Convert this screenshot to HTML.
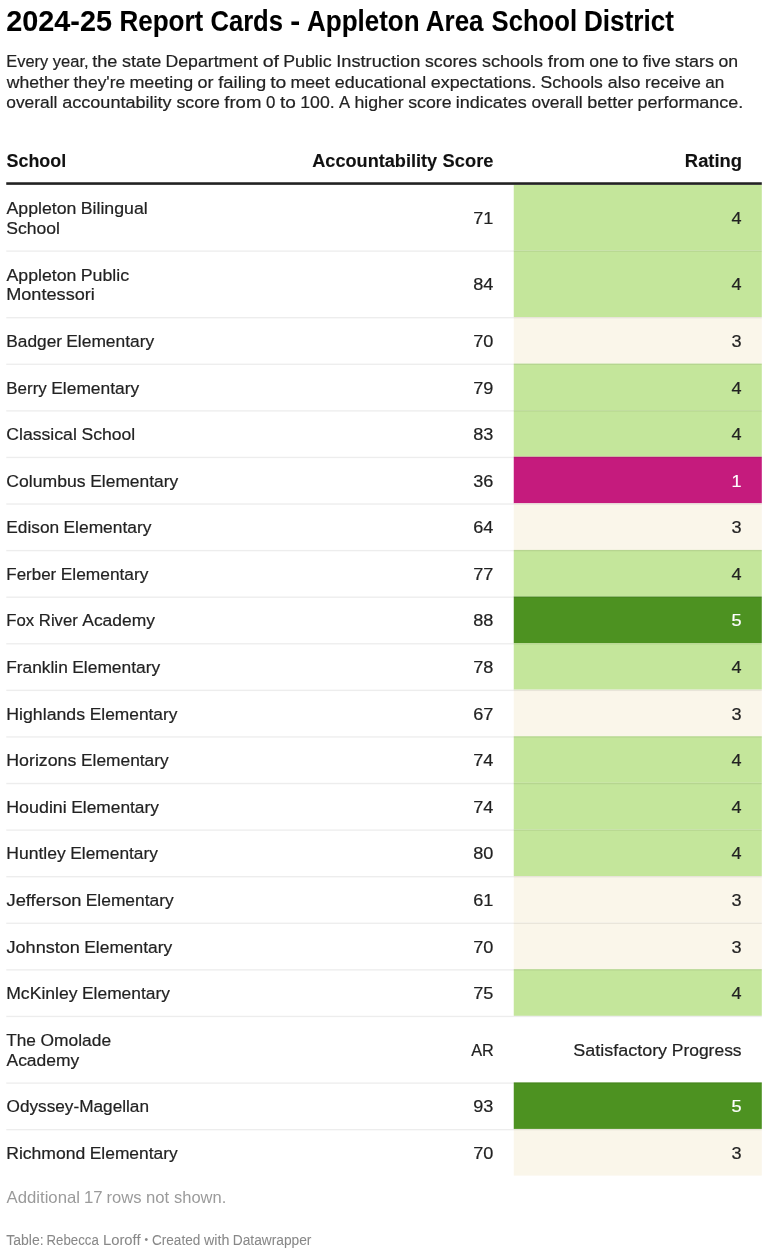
<!DOCTYPE html>
<html lang="en"><head><meta charset="utf-8"><title>2024-25 Report Cards - Appleton Area School District</title>
<style>
html,body{margin:0;padding:0;background:#fff;}
body{width:768px;height:1255px;overflow:hidden;position:relative;font-family:"Liberation Sans",sans-serif;color:#222;}
.t{position:absolute;white-space:nowrap;display:block;margin:0;padding:0;}
h1,p{margin:0;padding:0;font-size:inherit;font-weight:inherit;}
.bgs{position:absolute;left:0;top:0;}
.t{transform-origin:0 0;}
.ttl .t{font-size:28.8px;line-height:33.1px;color:#000;font-weight:700;-webkit-text-stroke:0.08px currentColor;}
.dsc .t{font-size:17.4px;line-height:20.0px;color:#222;-webkit-text-stroke:0.2px currentColor;}
.hd .t{font-size:18.7px;line-height:21.5px;color:#111;font-weight:700;-webkit-text-stroke:0.12px currentColor;}
.row .t{font-size:17.4px;line-height:20.0px;color:#222;-webkit-text-stroke:0.2px currentColor;}
.row .wh .t{color:#fff;}
.more .t{font-size:16.5px;line-height:19.0px;color:#9b9b9b;}
.foot .t{font-size:14.0px;line-height:16.1px;color:#888;-webkit-text-stroke:0.05px currentColor;}
</style></head><body>
<svg class="bgs" width="768" height="1255" viewBox="0 0 768 1255" aria-hidden="true">
<rect x="513.75" y="184.90" width="248.05" height="65.50" fill="#c4e69b"/>
<rect x="513.75" y="250.40" width="248.05" height="66.60" fill="#c4e69b"/>
<rect x="513.75" y="317.00" width="248.05" height="46.58" fill="#faf6ea"/>
<rect x="513.75" y="363.58" width="248.05" height="46.58" fill="#c4e69b"/>
<rect x="513.75" y="410.17" width="248.05" height="46.58" fill="#c4e69b"/>
<rect x="513.75" y="456.75" width="248.05" height="46.58" fill="#c51b7d"/>
<rect x="513.75" y="503.33" width="248.05" height="46.58" fill="#faf6ea"/>
<rect x="513.75" y="549.91" width="248.05" height="46.58" fill="#c4e69b"/>
<rect x="513.75" y="596.50" width="248.05" height="46.58" fill="#4d9221"/>
<rect x="513.75" y="643.08" width="248.05" height="46.58" fill="#c4e69b"/>
<rect x="513.75" y="689.66" width="248.05" height="46.58" fill="#faf6ea"/>
<rect x="513.75" y="736.25" width="248.05" height="46.58" fill="#c4e69b"/>
<rect x="513.75" y="782.83" width="248.05" height="46.58" fill="#c4e69b"/>
<rect x="513.75" y="829.41" width="248.05" height="46.58" fill="#c4e69b"/>
<rect x="513.75" y="876.00" width="248.05" height="46.58" fill="#faf6ea"/>
<rect x="513.75" y="922.58" width="248.05" height="46.58" fill="#faf6ea"/>
<rect x="513.75" y="969.16" width="248.05" height="46.58" fill="#c4e69b"/>
<rect x="513.75" y="1082.40" width="248.05" height="46.55" fill="#4d9221"/>
<rect x="513.75" y="1128.95" width="248.05" height="46.65" fill="#faf6ea"/>
<rect x="6.25" y="250.40" width="755.55" height="1.4" fill="#000" fill-opacity="0.07"/>
<rect x="6.25" y="317.00" width="755.55" height="1.4" fill="#000" fill-opacity="0.07"/>
<rect x="6.25" y="363.58" width="755.55" height="1.4" fill="#000" fill-opacity="0.07"/>
<rect x="6.25" y="410.17" width="755.55" height="1.4" fill="#000" fill-opacity="0.07"/>
<rect x="6.25" y="456.75" width="755.55" height="1.4" fill="#000" fill-opacity="0.07"/>
<rect x="6.25" y="503.33" width="755.55" height="1.4" fill="#000" fill-opacity="0.07"/>
<rect x="6.25" y="549.91" width="755.55" height="1.4" fill="#000" fill-opacity="0.07"/>
<rect x="6.25" y="596.50" width="755.55" height="1.4" fill="#000" fill-opacity="0.07"/>
<rect x="6.25" y="643.08" width="755.55" height="1.4" fill="#000" fill-opacity="0.07"/>
<rect x="6.25" y="689.66" width="755.55" height="1.4" fill="#000" fill-opacity="0.07"/>
<rect x="6.25" y="736.25" width="755.55" height="1.4" fill="#000" fill-opacity="0.07"/>
<rect x="6.25" y="782.83" width="755.55" height="1.4" fill="#000" fill-opacity="0.07"/>
<rect x="6.25" y="829.41" width="755.55" height="1.4" fill="#000" fill-opacity="0.07"/>
<rect x="6.25" y="876.00" width="755.55" height="1.4" fill="#000" fill-opacity="0.07"/>
<rect x="6.25" y="922.58" width="755.55" height="1.4" fill="#000" fill-opacity="0.07"/>
<rect x="6.25" y="969.16" width="755.55" height="1.4" fill="#000" fill-opacity="0.07"/>
<rect x="6.25" y="1015.75" width="755.55" height="1.4" fill="#000" fill-opacity="0.07"/>
<rect x="6.25" y="1082.40" width="755.55" height="1.4" fill="#000" fill-opacity="0.07"/>
<rect x="6.25" y="1128.95" width="755.55" height="1.4" fill="#000" fill-opacity="0.07"/>
<rect x="6.25" y="182.25" width="755.55" height="2.6" fill="#222"/>
</svg>
<h1 class="ttl"><span class="t" id="title_w0" style="left:6px;top:5px;transform:translateX(0.25px) scaleX(1.0000)">2024-25</span> <span class="t" id="title_w1" style="left:119px;top:5px;transform:translateX(0.44px) scaleX(0.9033)">Report</span> <span class="t" id="title_w2" style="left:210px;top:5px;transform:translateX(0.39px) scaleX(0.8896)">Cards</span> <span class="t" id="title_w3" style="left:290px;top:5px;transform:translateX(0.21px) scaleX(1.0345)">-</span> <span class="t" id="title_w4" style="left:307px;top:5px;transform:translateX(0.07px) scaleX(0.9018)">Appleton</span> <span class="t" id="title_w5" style="left:425px;top:5px;transform:translateX(0.82px) scaleX(0.9016)">Area</span> <span class="t" id="title_w6" style="left:491px;top:5px;transform:translateX(0.61px) scaleX(0.8898)">School</span> <span class="t" id="title_w7" style="left:583px;top:5px;transform:translateX(0.94px) scaleX(0.9070)">District</span></h1>
<p class="dsc"><span class="t" id="d0_w0" style="left:6px;top:51px;transform:translateX(0.34px) scaleX(0.9415)">Every</span> <span class="t" id="d0_w1" style="left:52px;top:51px;transform:translateX(0.76px) scaleX(0.9514)">year,</span> <span class="t" id="d0_w2" style="left:92px;top:51px;transform:translateX(0.24px) scaleX(1.0430)">the</span> <span class="t" id="d0_w3" style="left:121px;top:51px;transform:translateX(0.98px) scaleX(1.0411)">state</span> <span class="t" id="d0_w4" style="left:165px;top:51px;transform:translateX(0.47px) scaleX(1.0168)">Department</span> <span class="t" id="d0_w5" style="left:262px;top:51px;transform:translateX(0.65px) scaleX(1.1273)">of</span> <span class="t" id="d0_w6" style="left:283px;top:51px;transform:translateX(0.22px) scaleX(1.0220)">Public</span> <span class="t" id="d0_w7" style="left:336px;top:51px;transform:translateX(0.18px) scaleX(1.0484)">Instruction</span> <span class="t" id="d0_w8" style="left:424px;top:51px;transform:translateX(0.99px) scaleX(1.0150)">scores</span> <span class="t" id="d0_w9" style="left:481px;top:51px;transform:translateX(0.98px) scaleX(1.0346)">schools</span> <span class="t" id="d0_w10" style="left:547px;top:51px;transform:translateX(0.73px) scaleX(1.0672)">from</span> <span class="t" id="d0_w11" style="left:589px;top:51px;transform:translateX(0.24px) scaleX(1.0091)">one</span> <span class="t" id="d0_w12" style="left:622px;top:51px;transform:translateX(0.48px) scaleX(1.0926)">to</span> <span class="t" id="d0_w13" style="left:642px;top:51px;transform:translateX(0.74px) scaleX(1.0288)">five</span> <span class="t" id="d0_w14" style="left:674px;top:51px;transform:translateX(0.98px) scaleX(1.0342)">stars</span> <span class="t" id="d0_w15" style="left:718px;top:51px;transform:translateX(0.49px) scaleX(1.0143)">on</span>
<span class="t" id="d1_w0" style="left:6px;top:72px;transform:translateX(0.75px) scaleX(1.0122)">whether</span> <span class="t" id="d1_w1" style="left:73px;top:72px;transform:translateX(0.50px) scaleX(1.0000)">they're</span> <span class="t" id="d1_w2" style="left:129px;top:72px;transform:translateX(0.46px) scaleX(1.0294)">meeting</span> <span class="t" id="d1_w3" style="left:197px;top:72px;transform:translateX(0.47px) scaleX(1.0345)">or</span> <span class="t" id="d1_w4" style="left:218px;top:72px;transform:translateX(0.24px) scaleX(1.0568)">failing</span> <span class="t" id="d1_w5" style="left:270px;top:72px;transform:translateX(0.22px) scaleX(1.1111)">to</span> <span class="t" id="d1_w6" style="left:290px;top:72px;transform:translateX(0.47px) scaleX(1.0201)">meet</span> <span class="t" id="d1_w7" style="left:334px;top:72px;transform:translateX(0.73px) scaleX(1.0287)">educational</span> <span class="t" id="d1_w8" style="left:430px;top:72px;transform:translateX(0.73px) scaleX(1.0300)">expectations.</span> <span class="t" id="d1_w9" style="left:540px;top:72px;transform:translateX(0.49px) scaleX(1.0083)">Schools</span> <span class="t" id="d1_w10" style="left:607px;top:72px;transform:translateX(0.73px) scaleX(1.0246)">also</span> <span class="t" id="d1_w11" style="left:645px;top:72px;transform:translateX(0.01px) scaleX(0.9954)">receive</span> <span class="t" id="d1_w12" style="left:705px;top:72px;transform:translateX(0.26px) scaleX(0.9857)">an</span>
<span class="t" id="d2_w0" style="left:6px;top:92px;transform:translateX(0.25px) scaleX(1.0000)">overall</span> <span class="t" id="d2_w1" style="left:62px;top:92px;transform:translateX(0.22px) scaleX(1.0383)">accountability</span> <span class="t" id="d2_w2" style="left:176px;top:92px;transform:translateX(0.49px) scaleX(1.0182)">score</span> <span class="t" id="d2_w3" style="left:224px;top:92px;transform:translateX(0.23px) scaleX(1.0672)">from</span> <span class="t" id="d2_w4" style="left:266px;top:92px;transform:translateX(0.02px) scaleX(0.9697)">0</span> <span class="t" id="d2_w5" style="left:279px;top:92px;transform:translateX(0.98px) scaleX(1.0926)">to</span> <span class="t" id="d2_w6" style="left:300px;top:92px;transform:translateX(0.23px) scaleX(1.0161)">100.</span> <span class="t" id="d2_w7" style="left:339px;top:92px;transform:translateX(0.00px) scaleX(0.9565)">A</span> <span class="t" id="d2_w8" style="left:354px;top:92px;transform:translateX(0.48px) scaleX(1.0160)">higher</span> <span class="t" id="d2_w9" style="left:408px;top:92px;transform:translateX(0.24px) scaleX(1.0182)">score</span> <span class="t" id="d2_w10" style="left:455px;top:92px;transform:translateX(0.71px) scaleX(1.0337)">indicates</span> <span class="t" id="d2_w11" style="left:531px;top:92px;transform:translateX(0.50px) scaleX(1.0000)">overall</span> <span class="t" id="d2_w12" style="left:587px;top:92px;transform:translateX(0.21px) scaleX(1.0349)">better</span> <span class="t" id="d2_w13" style="left:637px;top:92px;transform:translateX(0.46px) scaleX(1.0327)">performance.</span></p>
<div class="tbl">
<div class="hd"><div><span class="t" id="hS_w0" style="left:6px;top:150px;transform:translateX(0.52px) scaleX(0.9570)">School</span></div><div><span class="t" id="hA_w0" style="left:312px;top:150px;transform:translateX(0.27px) scaleX(0.9699)">Accountability</span> <span class="t" id="hA_w1" style="left:442px;top:150px;transform:translateX(0.61px) scaleX(0.9783)">Score</span></div><div><span class="t" id="hR_w0" style="left:684px;top:150px;transform:translateX(0.87px) scaleX(0.9830)">Rating</span></div></div>
<div class="row"><div><span class="t" id="n0_0_w0" style="left:6px;top:198px;transform:translateX(0.50px) scaleX(1.0185)">Appleton</span> <span class="t" id="n0_0_w1" style="left:80px;top:198px;transform:translateX(0.72px) scaleX(1.0198)">Bilingual</span> <span class="t" id="n0_1_w0" style="left:6px;top:218px;transform:translateX(0.24px) scaleX(1.0098)">School</span></div><div><span class="t" id="s0_w0" style="left:473px;top:208px;transform:translateX(0.21px) scaleX(1.0412)">71</span></div><div><span class="t" id="r0_w0" style="left:731px;top:208px;transform:translateX(0.43px) scaleX(1.0412)">4</span></div></div>
<div class="row"><div><span class="t" id="n1_0_w0" style="left:6px;top:265px;transform:translateX(0.50px) scaleX(1.0185)">Appleton</span> <span class="t" id="n1_0_w1" style="left:80px;top:265px;transform:translateX(0.72px) scaleX(1.0220)">Public</span> <span class="t" id="n1_1_w0" style="left:6px;top:284px;transform:translateX(0.19px) scaleX(1.0424)">Montessori</span></div><div><span class="t" id="s1_w0" style="left:473px;top:274px;transform:translateX(0.21px) scaleX(1.0412)">84</span></div><div><span class="t" id="r1_w0" style="left:731px;top:274px;transform:translateX(0.43px) scaleX(1.0412)">4</span></div></div>
<div class="row"><div><span class="t" id="n2_0_w0" style="left:6px;top:331px;transform:translateX(0.26px) scaleX(0.9954)">Badger</span> <span class="t" id="n2_0_w1" style="left:66px;top:331px;transform:translateX(0.25px) scaleX(1.0000)">Elementary</span></div><div><span class="t" id="s2_w0" style="left:473px;top:331px;transform:translateX(0.21px) scaleX(1.0412)">70</span></div><div><span class="t" id="r2_w0" style="left:731px;top:331px;transform:translateX(0.43px) scaleX(1.0412)">3</span></div></div>
<div class="row"><div><span class="t" id="n3_0_w0" style="left:6px;top:378px;transform:translateX(0.29px) scaleX(0.9750)">Berry</span> <span class="t" id="n3_0_w1" style="left:51px;top:378px;transform:translateX(0.25px) scaleX(1.0000)">Elementary</span></div><div><span class="t" id="s3_w0" style="left:473px;top:378px;transform:translateX(0.21px) scaleX(1.0412)">79</span></div><div><span class="t" id="r3_w0" style="left:731px;top:378px;transform:translateX(0.43px) scaleX(1.0412)">4</span></div></div>
<div class="row"><div><span class="t" id="n4_0_w0" style="left:6px;top:424px;transform:translateX(0.24px) scaleX(1.0148)">Classical</span> <span class="t" id="n4_0_w1" style="left:81px;top:424px;transform:translateX(0.49px) scaleX(1.0098)">School</span></div><div><span class="t" id="s4_w0" style="left:473px;top:424px;transform:translateX(0.21px) scaleX(1.0412)">83</span></div><div><span class="t" id="r4_w0" style="left:731px;top:424px;transform:translateX(0.43px) scaleX(1.0412)">4</span></div></div>
<div class="row"><div><span class="t" id="n5_0_w0" style="left:6px;top:471px;transform:translateX(0.24px) scaleX(1.0130)">Columbus</span> <span class="t" id="n5_0_w1" style="left:90px;top:471px;transform:translateX(0.25px) scaleX(1.0000)">Elementary</span></div><div><span class="t" id="s5_w0" style="left:473px;top:471px;transform:translateX(0.21px) scaleX(1.0412)">36</span></div><div class="wh"><span class="t" id="r5_w0" style="left:731px;top:471px;transform:translateX(0.43px) scaleX(1.0412)">1</span></div></div>
<div class="row"><div><span class="t" id="n6_0_w0" style="left:6px;top:517px;transform:translateX(0.26px) scaleX(0.9950)">Edison</span> <span class="t" id="n6_0_w1" style="left:63px;top:517px;transform:translateX(0.50px) scaleX(1.0000)">Elementary</span></div><div><span class="t" id="s6_w0" style="left:473px;top:517px;transform:translateX(0.21px) scaleX(1.0412)">64</span></div><div><span class="t" id="r6_w0" style="left:731px;top:517px;transform:translateX(0.43px) scaleX(1.0412)">3</span></div></div>
<div class="row"><div><span class="t" id="n7_0_w0" style="left:6px;top:564px;transform:translateX(0.29px) scaleX(0.9747)">Ferber</span> <span class="t" id="n7_0_w1" style="left:60px;top:564px;transform:translateX(0.75px) scaleX(0.9971)">Elementary</span></div><div><span class="t" id="s7_w0" style="left:473px;top:564px;transform:translateX(0.21px) scaleX(1.0412)">77</span></div><div><span class="t" id="r7_w0" style="left:731px;top:564px;transform:translateX(0.43px) scaleX(1.0412)">4</span></div></div>
<div class="row"><div><span class="t" id="n8_0_w0" style="left:6px;top:610px;transform:translateX(0.31px) scaleX(0.9633)">Fox</span> <span class="t" id="n8_0_w1" style="left:38px;top:610px;transform:translateX(0.81px) scaleX(0.9613)">River</span> <span class="t" id="n8_0_w2" style="left:82px;top:610px;transform:translateX(0.25px) scaleX(1.0034)">Academy</span></div><div><span class="t" id="s8_w0" style="left:473px;top:610px;transform:translateX(0.21px) scaleX(1.0412)">88</span></div><div class="wh"><span class="t" id="r8_w0" style="left:731px;top:610px;transform:translateX(0.43px) scaleX(1.0412)">5</span></div></div>
<div class="row"><div><span class="t" id="n9_0_w0" style="left:6px;top:657px;transform:translateX(0.26px) scaleX(0.9958)">Franklin</span> <span class="t" id="n9_0_w1" style="left:72px;top:657px;transform:translateX(0.25px) scaleX(1.0000)">Elementary</span></div><div><span class="t" id="s9_w0" style="left:473px;top:657px;transform:translateX(0.21px) scaleX(1.0412)">78</span></div><div><span class="t" id="r9_w0" style="left:731px;top:657px;transform:translateX(0.43px) scaleX(1.0412)">4</span></div></div>
<div class="row"><div><span class="t" id="n10_0_w0" style="left:6px;top:704px;transform:translateX(0.22px) scaleX(1.0199)">Highlands</span> <span class="t" id="n10_0_w1" style="left:89px;top:704px;transform:translateX(0.75px) scaleX(0.9971)">Elementary</span></div><div><span class="t" id="s10_w0" style="left:473px;top:704px;transform:translateX(0.21px) scaleX(1.0412)">67</span></div><div><span class="t" id="r10_w0" style="left:731px;top:704px;transform:translateX(0.43px) scaleX(1.0412)">3</span></div></div>
<div class="row"><div><span class="t" id="n11_0_w0" style="left:6px;top:750px;transform:translateX(0.22px) scaleX(1.0226)">Horizons</span> <span class="t" id="n11_0_w1" style="left:81px;top:750px;transform:translateX(0.00px) scaleX(0.9971)">Elementary</span></div><div><span class="t" id="s11_w0" style="left:473px;top:750px;transform:translateX(0.21px) scaleX(1.0412)">74</span></div><div><span class="t" id="r11_w0" style="left:731px;top:750px;transform:translateX(0.43px) scaleX(1.0412)">4</span></div></div>
<div class="row"><div><span class="t" id="n12_0_w0" style="left:6px;top:797px;transform:translateX(0.21px) scaleX(1.0267)">Houdini</span> <span class="t" id="n12_0_w1" style="left:71px;top:797px;transform:translateX(0.25px) scaleX(0.9971)">Elementary</span></div><div><span class="t" id="s12_w0" style="left:473px;top:797px;transform:translateX(0.21px) scaleX(1.0412)">74</span></div><div><span class="t" id="r12_w0" style="left:731px;top:797px;transform:translateX(0.43px) scaleX(1.0412)">4</span></div></div>
<div class="row"><div><span class="t" id="n13_0_w0" style="left:6px;top:843px;transform:translateX(0.24px) scaleX(1.0087)">Huntley</span> <span class="t" id="n13_0_w1" style="left:70px;top:843px;transform:translateX(0.25px) scaleX(0.9971)">Elementary</span></div><div><span class="t" id="s13_w0" style="left:473px;top:843px;transform:translateX(0.21px) scaleX(1.0412)">80</span></div><div><span class="t" id="r13_w0" style="left:731px;top:843px;transform:translateX(0.43px) scaleX(1.0412)">4</span></div></div>
<div class="row"><div><span class="t" id="n14_0_w0" style="left:6px;top:890px;transform:translateX(0.49px) scaleX(1.0538)">Jefferson</span> <span class="t" id="n14_0_w1" style="left:85px;top:890px;transform:translateX(0.75px) scaleX(1.0000)">Elementary</span></div><div><span class="t" id="s14_w0" style="left:473px;top:890px;transform:translateX(0.21px) scaleX(1.0412)">61</span></div><div><span class="t" id="r14_w0" style="left:731px;top:890px;transform:translateX(0.43px) scaleX(1.0412)">3</span></div></div>
<div class="row"><div><span class="t" id="n15_0_w0" style="left:6px;top:937px;transform:translateX(0.49px) scaleX(1.0397)">Johnston</span> <span class="t" id="n15_0_w1" style="left:84px;top:937px;transform:translateX(0.25px) scaleX(1.0000)">Elementary</span></div><div><span class="t" id="s15_w0" style="left:473px;top:937px;transform:translateX(0.21px) scaleX(1.0412)">70</span></div><div><span class="t" id="r15_w0" style="left:731px;top:937px;transform:translateX(0.43px) scaleX(1.0412)">3</span></div></div>
<div class="row"><div><span class="t" id="n16_0_w0" style="left:6px;top:983px;transform:translateX(0.23px) scaleX(1.0109)">McKinley</span> <span class="t" id="n16_0_w1" style="left:82px;top:983px;transform:translateX(0.00px) scaleX(1.0000)">Elementary</span></div><div><span class="t" id="s16_w0" style="left:473px;top:983px;transform:translateX(0.21px) scaleX(1.0412)">75</span></div><div><span class="t" id="r16_w0" style="left:731px;top:983px;transform:translateX(0.43px) scaleX(1.0412)">4</span></div></div>
<div class="row"><div><span class="t" id="n17_0_w0" style="left:6px;top:1030px;transform:translateX(0.25px) scaleX(0.9913)">The</span> <span class="t" id="n17_0_w1" style="left:40px;top:1030px;transform:translateX(0.50px) scaleX(1.0000)">Omolade</span> <span class="t" id="n17_1_w0" style="left:6px;top:1050px;transform:translateX(0.50px) scaleX(1.0034)">Academy</span></div><div><span class="t" id="s17_w0" style="left:471px;top:1040px;transform:translateX(0.25px) scaleX(0.9355)">AR</span></div><div><span class="t" id="r17_w0" style="left:573px;top:1040px;transform:translateX(0.23px) scaleX(1.0333)">Satisfactory</span> <span class="t" id="r17_w1" style="left:671px;top:1040px;transform:translateX(0.74px) scaleX(1.0037)">Progress</span></div></div>
<div class="row"><div><span class="t" id="n18_0_w0" style="left:6px;top:1096px;transform:translateX(0.51px) scaleX(0.9895)">Odyssey-Magellan</span></div><div><span class="t" id="s18_w0" style="left:473px;top:1096px;transform:translateX(0.21px) scaleX(1.0412)">93</span></div><div class="wh"><span class="t" id="r18_w0" style="left:731px;top:1096px;transform:translateX(0.43px) scaleX(1.0412)">5</span></div></div>
<div class="row"><div><span class="t" id="n19_0_w0" style="left:6px;top:1143px;transform:translateX(0.24px) scaleX(1.0099)">Richmond</span> <span class="t" id="n19_0_w1" style="left:89px;top:1143px;transform:translateX(0.75px) scaleX(1.0000)">Elementary</span></div><div><span class="t" id="s19_w0" style="left:473px;top:1143px;transform:translateX(0.21px) scaleX(1.0412)">70</span></div><div><span class="t" id="r19_w0" style="left:731px;top:1143px;transform:translateX(0.43px) scaleX(1.0412)">3</span></div></div>
</div>
<div class="more"><span class="t" id="more_w0" style="left:6px;top:1188px;transform:translateX(0.50px) scaleX(1.0140)">Additional</span> <span class="t" id="more_w1" style="left:83px;top:1188px;transform:translateX(0.98px) scaleX(1.0154)">17</span> <span class="t" id="more_w2" style="left:106px;top:1188px;transform:translateX(0.49px) scaleX(1.0075)">rows</span> <span class="t" id="more_w3" style="left:145px;top:1188px;transform:translateX(0.99px) scaleX(1.0115)">not</span> <span class="t" id="more_w4" style="left:174px;top:1188px;transform:translateX(0.00px) scaleX(1.0000)">shown.</span></div>
<div class="foot"><span class="t" id="foot_w0" style="left:6px;top:1232px;transform:translateX(0.25px) scaleX(1.0000)">Table:</span> <span class="t" id="foot_w1" style="left:46px;top:1232px;transform:translateX(0.57px) scaleX(0.9444)">Rebecca</span> <span class="t" id="foot_w2" style="left:102px;top:1232px;transform:translateX(0.93px) scaleX(1.0584)">Loroff</span> <span class="t" id="foot_w3" style="left:144px;top:1232px;font-size:10.27px;transform:translateX(0.38px)">•</span> <span class="t" id="foot_w4" style="left:152px;top:1232px;transform:translateX(0.02px) scaleX(0.9688)">Created</span> <span class="t" id="foot_w5" style="left:204px;top:1232px;transform:translateX(0.00px) scaleX(1.0208)">with</span> <span class="t" id="foot_w6" style="left:232px;top:1232px;transform:translateX(0.77px) scaleX(0.9810)">Datawrapper</span></div>
</body></html>
